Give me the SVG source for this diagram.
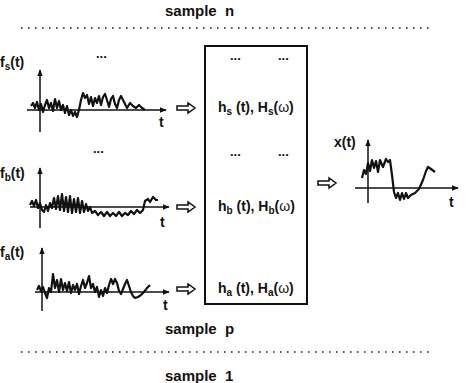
<svg xmlns="http://www.w3.org/2000/svg" width="474" height="383" viewBox="0 0 474 383">
<defs>
<style>
text{font-family:"Liberation Sans",Arial,sans-serif;font-weight:bold;fill:#111;white-space:pre}
.big{font-size:15px}
.lab{font-size:14px}
.sub{font-size:10px}
.dots{font-size:13px}
.dotline{stroke:#222;stroke-width:1.6;stroke-dasharray:1.6 5.4;fill:none}
.axis{stroke:#111;stroke-width:1.5;fill:none}
.wave{stroke:#111;stroke-width:2.2;fill:none;stroke-linejoin:round}
.hollow{fill:#fff;stroke:#111;stroke-width:1.5;stroke-linejoin:miter}
.box{fill:none;stroke:#111;stroke-width:2}
.om{font-weight:normal}
</style>
<marker id="ah" viewBox="0 0 10 10" refX="9" refY="5" markerWidth="7" markerHeight="7" orient="auto" markerUnits="userSpaceOnUse">
<path d="M0,1 L10,5 L0,9 Z" fill="#111"/>
</marker>
<symbol id="harrow" overflow="visible">
<polygon class="hollow" points="0,-2 11,-2 11,-5 18,0 11,5 11,2 0,2"/>
</symbol>
</defs>

<g id="headers">
<text class="big" x="165" y="16">sample  n</text>
<line class="dotline" x1="21" y1="28" x2="430" y2="28"/>
<text class="big" x="165" y="334">sample  p</text>
<line class="dotline" x1="21" y1="352" x2="430" y2="352"/>
<text class="big" x="165" y="381">sample  1</text>
</g>

<g id="signal-fs">
<text class="lab" x="0" y="67">f<tspan class="sub" dy="3">s</tspan><tspan dy="-3">(t)</tspan></text>
<text class="dots" x="96" y="58">...</text>
<line class="axis" x1="40" y1="132" x2="40" y2="70" marker-end="url(#ah)"/>
<line class="axis" x1="27" y1="110" x2="166" y2="110" marker-end="url(#ah)"/>
<polyline class="wave" points="31,106 33,103 35,108 37,102 39,110 41,104 43,112 45,105 47,100 49,108 51,103 53,111 55,99 57,108 59,101 61,110 63,105 65,113 67,106 69,115 71,110 73,116 75,112 77,117 79,110 81,100 83,93 85,98 87,95 89,104 91,97 93,106 95,98 97,103 99,96 101,105 103,97 105,94 107,100 109,107 111,99 113,96 115,104 117,108 119,100 121,96 124,102 127,108 130,103 133,106 136,108 139,105 142,108 145,110"/>
<text class="lab" x="159" y="127">t</text>
</g>

<g id="signal-fb">
<text class="dots" x="93" y="153">...</text>
<text class="lab" x="0" y="178">f<tspan class="sub" dy="3">b</tspan><tspan dy="-3">(t)</tspan></text>
<line class="axis" x1="40" y1="228" x2="40" y2="168" marker-end="url(#ah)"/>
<line class="axis" x1="30" y1="207" x2="169" y2="207" marker-end="url(#ah)"/>
<polyline class="wave" points="30,205 32,201 34,206 36,200 38,208 40,203 42,210 44,212 46,205 48,211 50,203 52,208 54,198 56,209 58,196 60,210 62,194 64,211 66,197 68,212 70,196 72,213 74,199 76,212 78,198 80,213 82,201 84,212 86,204 88,211 90,207 92,213 95,211 98,215 101,212 104,216 107,212 110,216 113,213 116,216 119,212 122,216 125,213 128,215 131,211 134,214 137,210 140,213 143,210 145,201 148,199 150,202 153,197 156,200 158,200"/>
<text class="lab" x="160" y="227">t</text>
</g>

<g id="signal-fa">
<text class="lab" x="0" y="257">f<tspan class="sub" dy="3">a</tspan><tspan dy="-3">(t)</tspan></text>
<line class="axis" x1="42" y1="311" x2="42" y2="248" marker-end="url(#ah)"/>
<line class="axis" x1="35" y1="292" x2="169" y2="292" marker-end="url(#ah)"/>
<polyline class="wave" points="37,290 39,286 41,291 43,287 45,293 47,298 49,288 51,292 53,274 55,288 57,280 59,292 61,279 63,290 65,283 67,291 69,282 71,293 73,285 75,290 77,284 79,294 81,286 83,280 85,288 87,283 89,276 91,288 93,284 95,292 97,287 99,297 101,290 103,296 105,288 107,293 109,285 111,279 113,284 115,279 117,283 119,291 121,294 123,289 125,284 127,280 129,286 131,292 133,296 135,298 138,297 141,295 144,292 147,288 150,285"/>
<text class="lab" x="163" y="310">t</text>
</g>

<g id="filter-box">
<rect class="box" x="205" y="46" width="102" height="258"/>
<text class="dots" x="230" y="60">...</text>
<text class="dots" x="278" y="60">...</text>
<text class="lab" x="218" y="112">h<tspan class="sub" dy="3">s</tspan><tspan dy="-3"> (t), H</tspan><tspan class="sub" dy="3">s</tspan><tspan dy="-3">(<tspan class="om">ω</tspan>)</tspan></text>
<text class="dots" x="230" y="156">...</text>
<text class="dots" x="278" y="156">...</text>
<text class="lab" x="218" y="211">h<tspan class="sub" dy="3">b</tspan><tspan dy="-3"> (t), H</tspan><tspan class="sub" dy="3">b</tspan><tspan dy="-3">(<tspan class="om">ω</tspan>)</tspan></text>
<text class="lab" x="218" y="293">h<tspan class="sub" dy="3">a</tspan><tspan dy="-3"> (t), H</tspan><tspan class="sub" dy="3">a</tspan><tspan dy="-3">(<tspan class="om">ω</tspan>)</tspan></text>
</g>

<g id="signal-x">
<text class="lab" x="334" y="147">x(t)</text>
<line class="axis" x1="368" y1="203" x2="368" y2="140" marker-end="url(#ah)"/>
<line class="axis" x1="355" y1="188" x2="458" y2="188" marker-end="url(#ah)"/>
<polyline class="wave" points="362,178 364,170 366,174 368,163 370,171 372,160 374,168 376,161 378,172 380,160 383,167 386,159 388,162 390,160 392,175 394,192 396,198 398,193 400,200 402,193 404,199 406,193 408,198 411,195 415,193 419,189 423,180 426,171 428,167 431,169 435,172"/>
<text class="lab" x="449" y="207">t</text>
</g>

<g id="connectors">
<use href="#harrow" x="177" y="108"/>
<use href="#harrow" x="177" y="207"/>
<use href="#harrow" x="177" y="289"/>
<use href="#harrow" x="318" y="183"/>
</g>
</svg>
